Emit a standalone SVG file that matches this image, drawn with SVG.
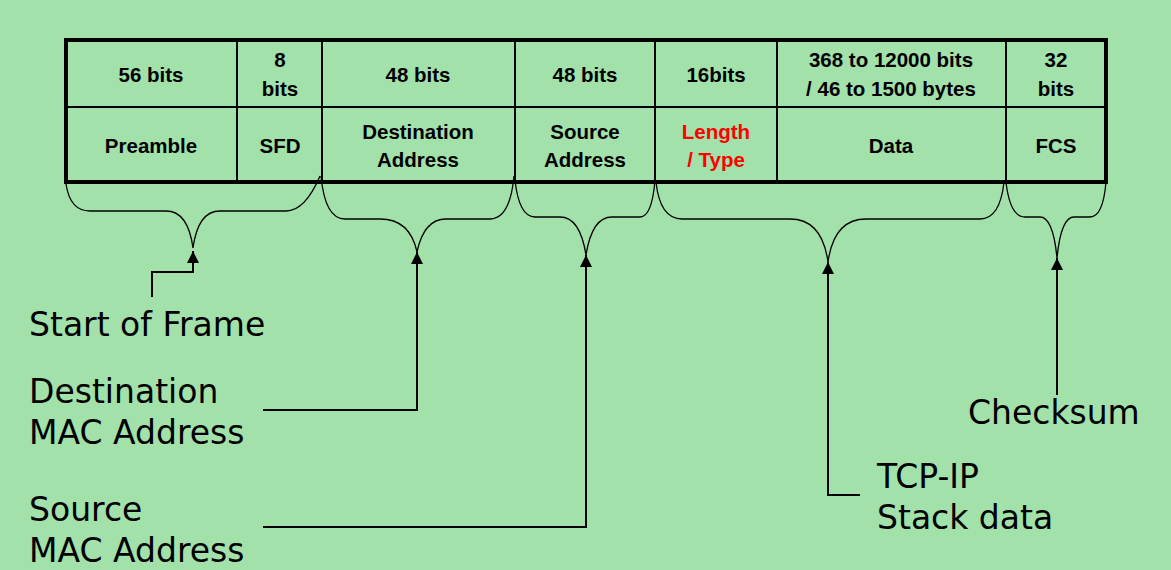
<svg xmlns="http://www.w3.org/2000/svg" width="1171" height="570" viewBox="0 0 1171 570">
<defs>
<marker id="ar" markerWidth="12" markerHeight="12" refX="10" refY="5" orient="auto" markerUnits="userSpaceOnUse" viewBox="0 0 10 10"><path d="M0,0 L10,5 L0,10 Z" fill="#000"/></marker>
<style>
.c{font-family:"Liberation Sans",Arial,sans-serif;font-weight:bold;font-size:20.5px;text-anchor:middle;fill:#000}
.l{font-family:"DejaVu Sans",Verdana,sans-serif;font-size:33px;fill:#000}
.b{fill:none;stroke:#000;stroke-width:1.3}
.a{fill:none;stroke:#000;stroke-width:2}
.g{stroke:#000;stroke-width:2}
</style>
</defs>
<rect width="1171" height="570" fill="#a3e1ab"/>
<g id="table">
<rect x="66" y="40" width="1040" height="142" fill="none" stroke="#000" stroke-width="4"/>
<line class="g" x1="66" y1="107" x2="1106" y2="107"/>
<line class="g" x1="237" y1="40" x2="237" y2="182"/>
<line class="g" x1="322" y1="40" x2="322" y2="182"/>
<line class="g" x1="515" y1="40" x2="515" y2="182"/>
<line class="g" x1="655" y1="40" x2="655" y2="182"/>
<line class="g" x1="777" y1="40" x2="777" y2="182"/>
<line class="g" x1="1006" y1="40" x2="1006" y2="182"/>
<text class="c" x="151" y="82">56 bits</text>
<text class="c" x="280" y="67">8</text><text class="c" x="280" y="96">bits</text>
<text class="c" x="418" y="82">48 bits</text>
<text class="c" x="585" y="82">48 bits</text>
<text class="c" x="716" y="82">16bits</text>
<text class="c" x="891" y="67">368 to 12000 bits</text><text class="c" x="891" y="96">/ 46 to 1500 bytes</text>
<text class="c" x="1056" y="67">32</text><text class="c" x="1056" y="96">bits</text>
<text class="c" x="151" y="153">Preamble</text>
<text class="c" x="280" y="153">SFD</text>
<text class="c" x="418" y="139">Destination</text><text class="c" x="418" y="167">Address</text>
<text class="c" x="585" y="139">Source</text><text class="c" x="585" y="167">Address</text>
<text class="c" x="716" y="139" style="fill:#f00">Length</text><text class="c" x="716" y="167" style="fill:#f00">/ Type</text>
<text class="c" x="891" y="153">Data</text>
<text class="c" x="1056" y="153">FCS</text>
</g>
<g id="braces">
<path class="b" d="M66,184 Q70,211 90,211 H166 Q188,211 193,248 Q198,211 220,211 H286 Q305,211 320,176"/>
<path class="b" d="M321,176 Q325,219 345,219 H380 Q410,219 417,252 Q424,219 446,219 H490 Q510,219 514,176"/>
<path class="b" d="M515,180 Q519,217 535,217 H560 Q580,217 586,255 Q592,217 612,217 H640 Q652,217 655,180"/>
<path class="b" d="M656,182 Q660,219 682,219 H790 Q822,219 828,262 Q834,219 866,219 H980 Q1000,219 1004,182"/>
<path class="b" d="M1006,182 Q1010,217 1025,217 H1040 Q1053,217 1057,258 Q1061,217 1074,217 H1090 Q1103,217 1106,182"/>
</g>
<g id="connectors">
<polyline class="a" points="152,297 152,272 193,272 193,251" marker-end="url(#ar)"/>
<polyline class="a" points="263,410 417,410 417,252" marker-end="url(#ar)"/>
<polyline class="a" points="263,527 586,527 586,255" marker-end="url(#ar)"/>
<polyline class="a" points="860,495 828,495 828,262" marker-end="url(#ar)"/>
<polyline class="a" points="1057,395 1057,258" marker-end="url(#ar)"/>
</g>
<g id="labels">
<text class="l" x="29" y="336">Start of Frame</text>
<text class="l" x="29" y="403">Destination</text><text class="l" x="29" y="444">MAC Address</text>
<text class="l" x="29" y="521">Source</text><text class="l" x="29" y="562">MAC Address</text>
<text class="l" x="877" y="488">TCP-IP</text><text class="l" x="877" y="529">Stack data</text>
<text class="l" x="968" y="424">Checksum</text>
</g>
</svg>
